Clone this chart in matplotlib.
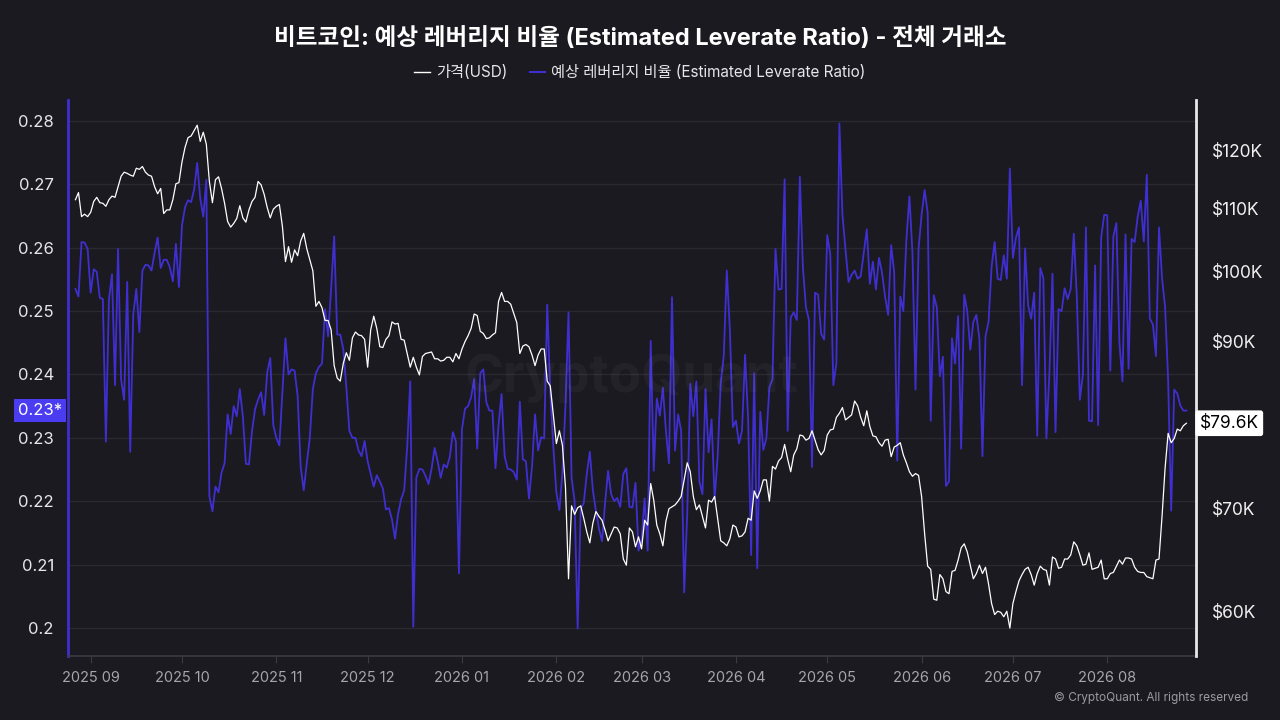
import numpy as np
import pandas as pd
import matplotlib
matplotlib.use("Agg")
import matplotlib.pyplot as plt
import matplotlib.dates as mdates
from matplotlib.ticker import FixedLocator, FixedFormatter, FuncFormatter, NullLocator

plt.rcParams['font.family'] = ['Inter', 'Noto Sans CJK KR', 'DejaVu Sans']

# daily values, 2025-08-27 .. 2026-08-27
start_date = "2025-08-27"

leverage = [
    0.2535, 0.2523, 0.2609, 0.2608, 0.2598, 0.2529, 0.2566, 0.2562, 0.2521, 0.2519,
    0.2294, 0.2518, 0.2558, 0.2383, 0.2598, 0.2392, 0.2360, 0.2546, 0.2278, 0.2495,
    0.2535, 0.2467, 0.2564, 0.2573, 0.2572, 0.2564, 0.2592, 0.2616, 0.2568, 0.2581,
    0.2581, 0.2569, 0.2547, 0.2606, 0.2538, 0.2635, 0.2664, 0.2675, 0.2672, 0.2692,
    0.2734, 0.2678, 0.2649, 0.2707, 0.2208, 0.2184, 0.2223, 0.2214, 0.2245, 0.2260,
    0.2337, 0.2306, 0.2350, 0.2334, 0.2377, 0.2334, 0.2259, 0.2258, 0.2310, 0.2345,
    0.2360, 0.2372, 0.2336, 0.2403, 0.2426, 0.2320, 0.2300, 0.2288, 0.2374, 0.2457,
    0.2400, 0.2408, 0.2406, 0.2366, 0.2254, 0.2217, 0.2260, 0.2300, 0.2377, 0.2402,
    0.2412, 0.2417, 0.2503, 0.2460, 0.2535, 0.2618, 0.2463, 0.2463, 0.2440, 0.2380,
    0.2311, 0.2300, 0.2300, 0.2280, 0.2271, 0.2295, 0.2263, 0.2243, 0.2223, 0.2241,
    0.2231, 0.2220, 0.2187, 0.2189, 0.2171, 0.2141, 0.2180, 0.2203, 0.2217, 0.2286,
    0.2389, 0.2002, 0.2237, 0.2251, 0.2250, 0.2240, 0.2227, 0.2251, 0.2284, 0.2263,
    0.2237, 0.2258, 0.2253, 0.2270, 0.2309, 0.2294, 0.2086, 0.2314, 0.2346, 0.2350,
    0.2364, 0.2393, 0.2283, 0.2402, 0.2408, 0.2356, 0.2343, 0.2343, 0.2252, 0.2320,
    0.2369, 0.2271, 0.2251, 0.2250, 0.2246, 0.2234, 0.2357, 0.2266, 0.2263, 0.2204,
    0.2254, 0.2337, 0.2280, 0.2301, 0.2299, 0.2510, 0.2374, 0.2286, 0.2214, 0.2186,
    0.2246, 0.2351, 0.2498, 0.2237, 0.2200, 0.1999, 0.2188, 0.2197, 0.2243, 0.2278,
    0.2217, 0.2185, 0.2157, 0.2137, 0.2197, 0.2248, 0.2211, 0.2200, 0.2205, 0.2191,
    0.2243, 0.2252, 0.2191, 0.2190, 0.2229, 0.2122, 0.2139, 0.2204, 0.2122, 0.2453,
    0.2248, 0.2362, 0.2335, 0.2379, 0.2311, 0.2260, 0.2522, 0.2280, 0.2337, 0.2311,
    0.2056, 0.2180, 0.2385, 0.2334, 0.2389, 0.2231, 0.2211, 0.2377, 0.2277, 0.2329,
    0.2203, 0.2271, 0.2386, 0.2429, 0.2564, 0.2472, 0.2317, 0.2327, 0.2291, 0.2311,
    0.2431, 0.2331, 0.2115, 0.2402, 0.2094, 0.2341, 0.2281, 0.2299, 0.2380, 0.2392,
    0.2598, 0.2534, 0.2535, 0.2708, 0.2311, 0.2490, 0.2498, 0.2486, 0.2712, 0.2569,
    0.2506, 0.2486, 0.2254, 0.2529, 0.2526, 0.2464, 0.2455, 0.2620, 0.2590, 0.2383,
    0.2417, 0.2796, 0.2652, 0.2597, 0.2546, 0.2557, 0.2564, 0.2551, 0.2555, 0.2592,
    0.2629, 0.2543, 0.2578, 0.2534, 0.2584, 0.2561, 0.2523, 0.2494, 0.2604, 0.2561,
    0.2264, 0.2523, 0.2500, 0.2612, 0.2681, 0.2592, 0.2376, 0.2598, 0.2652, 0.2691,
    0.2655, 0.2327, 0.2525, 0.2506, 0.2397, 0.2428, 0.2224, 0.2231, 0.2457, 0.2417,
    0.2492, 0.2283, 0.2526, 0.2500, 0.2439, 0.2483, 0.2494, 0.2456, 0.2271, 0.2460,
    0.2483, 0.2570, 0.2609, 0.2551, 0.2549, 0.2588, 0.2551, 0.2725, 0.2584, 0.2616,
    0.2632, 0.2383, 0.2599, 0.2509, 0.2488, 0.2529, 0.2303, 0.2568, 0.2552, 0.2299,
    0.2403, 0.2559, 0.2309, 0.2503, 0.2500, 0.2536, 0.2519, 0.2535, 0.2622, 0.2523,
    0.2360, 0.2400, 0.2632, 0.2327, 0.2326, 0.2572, 0.2320, 0.2616, 0.2652, 0.2651,
    0.2406, 0.2618, 0.2639, 0.2449, 0.2389, 0.2621, 0.2409, 0.2614, 0.2609, 0.2649,
    0.2674, 0.2610, 0.2715, 0.2488, 0.2479, 0.2429, 0.2632, 0.2552, 0.2506, 0.2392,
    0.2185, 0.2376, 0.2370, 0.2351, 0.2343, 0.2343,
]

# price in thousand USD
price_k = [
    111.4, 112.6, 108.6, 109.0, 108.6, 109.3, 111.1, 111.8, 110.9, 110.8,
    110.3, 111.4, 112.0, 111.8, 113.6, 115.4, 116.1, 115.9, 115.6, 115.4,
    116.8, 116.6, 117.1, 116.1, 115.6, 115.4, 113.6, 112.4, 113.3, 109.1,
    109.7, 109.7, 111.4, 114.1, 114.3, 117.9, 120.5, 122.3, 122.6, 123.6,
    124.6, 121.6, 123.3, 121.1, 114.5, 110.9, 114.8, 115.3, 113.3, 110.8,
    107.8, 106.9, 107.5, 108.3, 110.4, 108.4, 107.7, 109.7, 111.1, 111.8,
    114.5, 113.9, 112.3, 110.1, 108.4, 109.8, 110.3, 110.6, 107.0, 101.5,
    103.8, 101.4, 103.3, 102.4, 104.7, 105.9, 103.5, 101.8, 100.1, 94.9,
    95.6, 94.7, 92.9, 92.9, 91.6, 86.8, 85.2, 84.8, 87.1, 88.5,
    87.5, 90.5, 91.3, 90.9, 90.8, 90.3, 86.6, 91.6, 93.5, 91.8,
    89.3, 89.2, 90.3, 90.8, 92.7, 92.4, 92.5, 90.3, 90.2, 88.4,
    86.6, 87.9, 86.6, 85.6, 88.0, 88.4, 88.5, 88.6, 87.7, 87.7,
    87.4, 87.5, 87.9, 87.9, 87.3, 88.4, 87.7, 89.0, 90.0, 90.8,
    91.8, 93.8, 93.6, 91.4, 91.1, 90.4, 90.5, 90.9, 91.2, 95.6,
    96.9, 95.6, 95.6, 95.2, 93.9, 92.6, 88.4, 89.4, 89.6, 89.3,
    88.2, 86.8, 88.2, 89.0, 89.0, 84.8, 84.2, 80.6, 77.2, 78.7,
    77.0, 72.3, 63.0, 70.3, 69.4, 70.1, 70.3, 69.0, 67.6, 66.5,
    68.5, 69.7, 69.2, 68.8, 67.8, 66.7, 67.4, 68.1, 68.0, 67.4,
    64.9, 64.3, 68.0, 67.6, 66.1, 67.1, 65.9, 68.8, 68.3, 72.7,
    70.9, 68.3, 67.4, 66.2, 68.7, 70.0, 70.2, 70.4, 70.8, 71.3,
    73.1, 75.0, 74.0, 71.3, 69.9, 70.4, 69.2, 68.0, 70.9, 70.7,
    71.3, 69.0, 66.7, 66.5, 66.2, 66.9, 68.3, 68.1, 67.1, 67.2,
    67.6, 69.0, 68.8, 71.9, 71.1, 71.9, 73.1, 73.1, 70.8, 74.6,
    74.3, 75.2, 75.6, 77.1, 75.4, 74.0, 75.9, 76.6, 78.2, 78.1,
    77.6, 77.8, 78.7, 77.6, 76.5, 75.9, 76.4, 78.2, 78.8, 78.9,
    80.3, 80.8, 81.5, 80.0, 80.3, 80.6, 82.3, 81.7, 80.3, 79.3,
    81.1, 79.2, 78.1, 78.0, 77.3, 76.9, 77.6, 77.7, 75.7, 76.8,
    77.0, 77.3, 75.9, 75.0, 74.0, 73.5, 73.8, 73.6, 71.3, 67.4,
    64.2, 63.9, 61.1, 61.0, 63.4, 63.0, 61.8, 61.6, 63.7, 63.8,
    64.8, 66.0, 66.4, 65.6, 64.3, 63.0, 63.5, 64.3, 63.5, 64.1,
    62.5, 60.7, 59.7, 60.0, 59.9, 59.5, 60.0, 58.5, 60.7, 61.8,
    62.8, 63.4, 63.9, 64.1, 63.4, 62.4, 63.5, 64.2, 63.9, 63.8,
    62.4, 65.1, 64.9, 64.0, 64.1, 64.9, 64.9, 65.3, 66.6, 66.2,
    65.3, 64.3, 64.4, 65.5, 63.9, 64.0, 64.1, 64.8, 63.0, 63.0,
    63.5, 63.6, 64.2, 64.8, 64.4, 65.0, 65.0, 64.9, 64.1, 63.7,
    63.6, 63.6, 63.2, 63.1, 63.0, 64.8, 64.9, 69.2, 74.4, 78.4,
    77.3, 77.8, 78.9, 78.7, 79.3, 79.6,
]

left_ticks = [0.20, 0.21, 0.22, 0.23, 0.24, 0.25, 0.26, 0.27, 0.28]
# $80K is hidden behind the last-price tag in the original
right_ticks = [60, 70, 90, 100, 110, 120]
right_labels = ["$60K", "$70K", "$90K", "$100K", "$110K", "$120K"]

title = "비트코인: 예상 레버리지 비율 (Estimated Leverate Ratio) - 전체 거래소"
price_name = "가격(USD)"
lev_name = "예상 레버리지 비율 (Estimated Leverate Ratio)"

dates = pd.date_range(start_date, periods=len(leverage), freq="D")

bg = "#1b1a20"
purple = "#3f2fd0"
grid_c = "#2a2930"

fig = plt.figure(figsize=(12.8, 7.2), dpi=100, facecolor=bg)
ax = fig.add_axes([0.053, 0.089, 0.881, 0.772])
ax.set_facecolor(bg)
ax2 = ax.twinx()

ax.plot(dates, leverage, color=purple, lw=1.3, zorder=2)
ax2.plot(dates, price_k, color="white", lw=0.9, zorder=3)
ax.set_zorder(1)
ax2.set_zorder(2)
ax2.patch.set_visible(False)

ax.set_xlim(dates[0] - pd.Timedelta(days=2.5), dates[-1] + pd.Timedelta(days=3))
ax.set_ylim(0.19558, 0.2833)
ax2.set_yscale("log")
ax2.set_ylim(56.1, 129.4)

ax.yaxis.set_major_locator(FixedLocator(left_ticks))
ax.yaxis.set_major_formatter(FuncFormatter(lambda v, p: f"{v:g}"))
ax.tick_params(axis="y", length=0, colors="#e6e6ea", labelsize=12, pad=10)
ax.grid(axis="y", color=grid_c, lw=1)

ax2.yaxis.set_major_locator(FixedLocator(right_ticks))
ax2.yaxis.set_major_formatter(FixedFormatter(right_labels))
ax2.yaxis.set_minor_locator(NullLocator())
ax2.tick_params(axis="y", length=0, colors="#f0f0f0", labelsize=12.5, pad=12)

ax.xaxis.set_major_locator(mdates.MonthLocator())
ax.xaxis.set_major_formatter(mdates.DateFormatter("%Y %m"))
ax.tick_params(axis="x", colors="#3c3b44", labelcolor="#a5a5ad", labelsize=10.5, length=5, pad=6)

for a in (ax, ax2):
    for s in a.spines.values():
        s.set_visible(False)
ax.spines["left"].set_visible(True)
ax.spines["left"].set_color(purple)
ax.spines["left"].set_linewidth(2)
ax.spines["bottom"].set_visible(True)
ax.spines["bottom"].set_color("#3c3b44")
ax.spines["bottom"].set_linewidth(1.2)
ax2.spines["right"].set_visible(True)
ax2.spines["right"].set_color("#e8e8e8")
ax2.spines["right"].set_linewidth(2)

# last value tags
ax.annotate(f"{leverage[-1]:.2f}*", xy=(0, leverage[-1]), xycoords=("axes fraction", "data"),
            xytext=(-4, 0), textcoords="offset points", ha="right", va="center",
            color="white", fontsize=12,
            bbox=dict(boxstyle="square,pad=0.25", fc="#4a3cf0", ec="none"))
ax2.annotate(f"${price_k[-1]:.1f}K", xy=(1, price_k[-1]), xycoords=("axes fraction", "data"),
             xytext=(3, 0), textcoords="offset points", ha="left", va="center",
             color="black", fontsize=12.5,
             bbox=dict(boxstyle="round,pad=0.25,rounding_size=0.15", fc="white", ec="none"))

ax.text(0.5, 0.5, "CryptoQuant", transform=ax.transAxes, ha="center", va="center",
        fontsize=38, color="#ffffff", alpha=0.04, fontweight="bold")

fig.text(0.5, 0.947, title, ha="center", va="center", color="white", fontsize=17, fontweight="bold")

h1, = ax.plot([], [], color="white", lw=1)
h2, = ax.plot([], [], color=purple, lw=1.5)
fig.legend([h1, h2], [price_name, lev_name], loc="center", bbox_to_anchor=(0.5, 0.899),
           ncol=2, frameon=False, handlelength=1.0, handletextpad=0.4, columnspacing=1.5,
           fontsize=11, labelcolor="#e6e6ea")

fig.text(0.975, 0.031, "© CryptoQuant. All rights reserved", ha="right", va="center",
         color="#9a9aa2", fontsize=8.5)

fig.savefig("out.png", dpi=100, facecolor=bg)
